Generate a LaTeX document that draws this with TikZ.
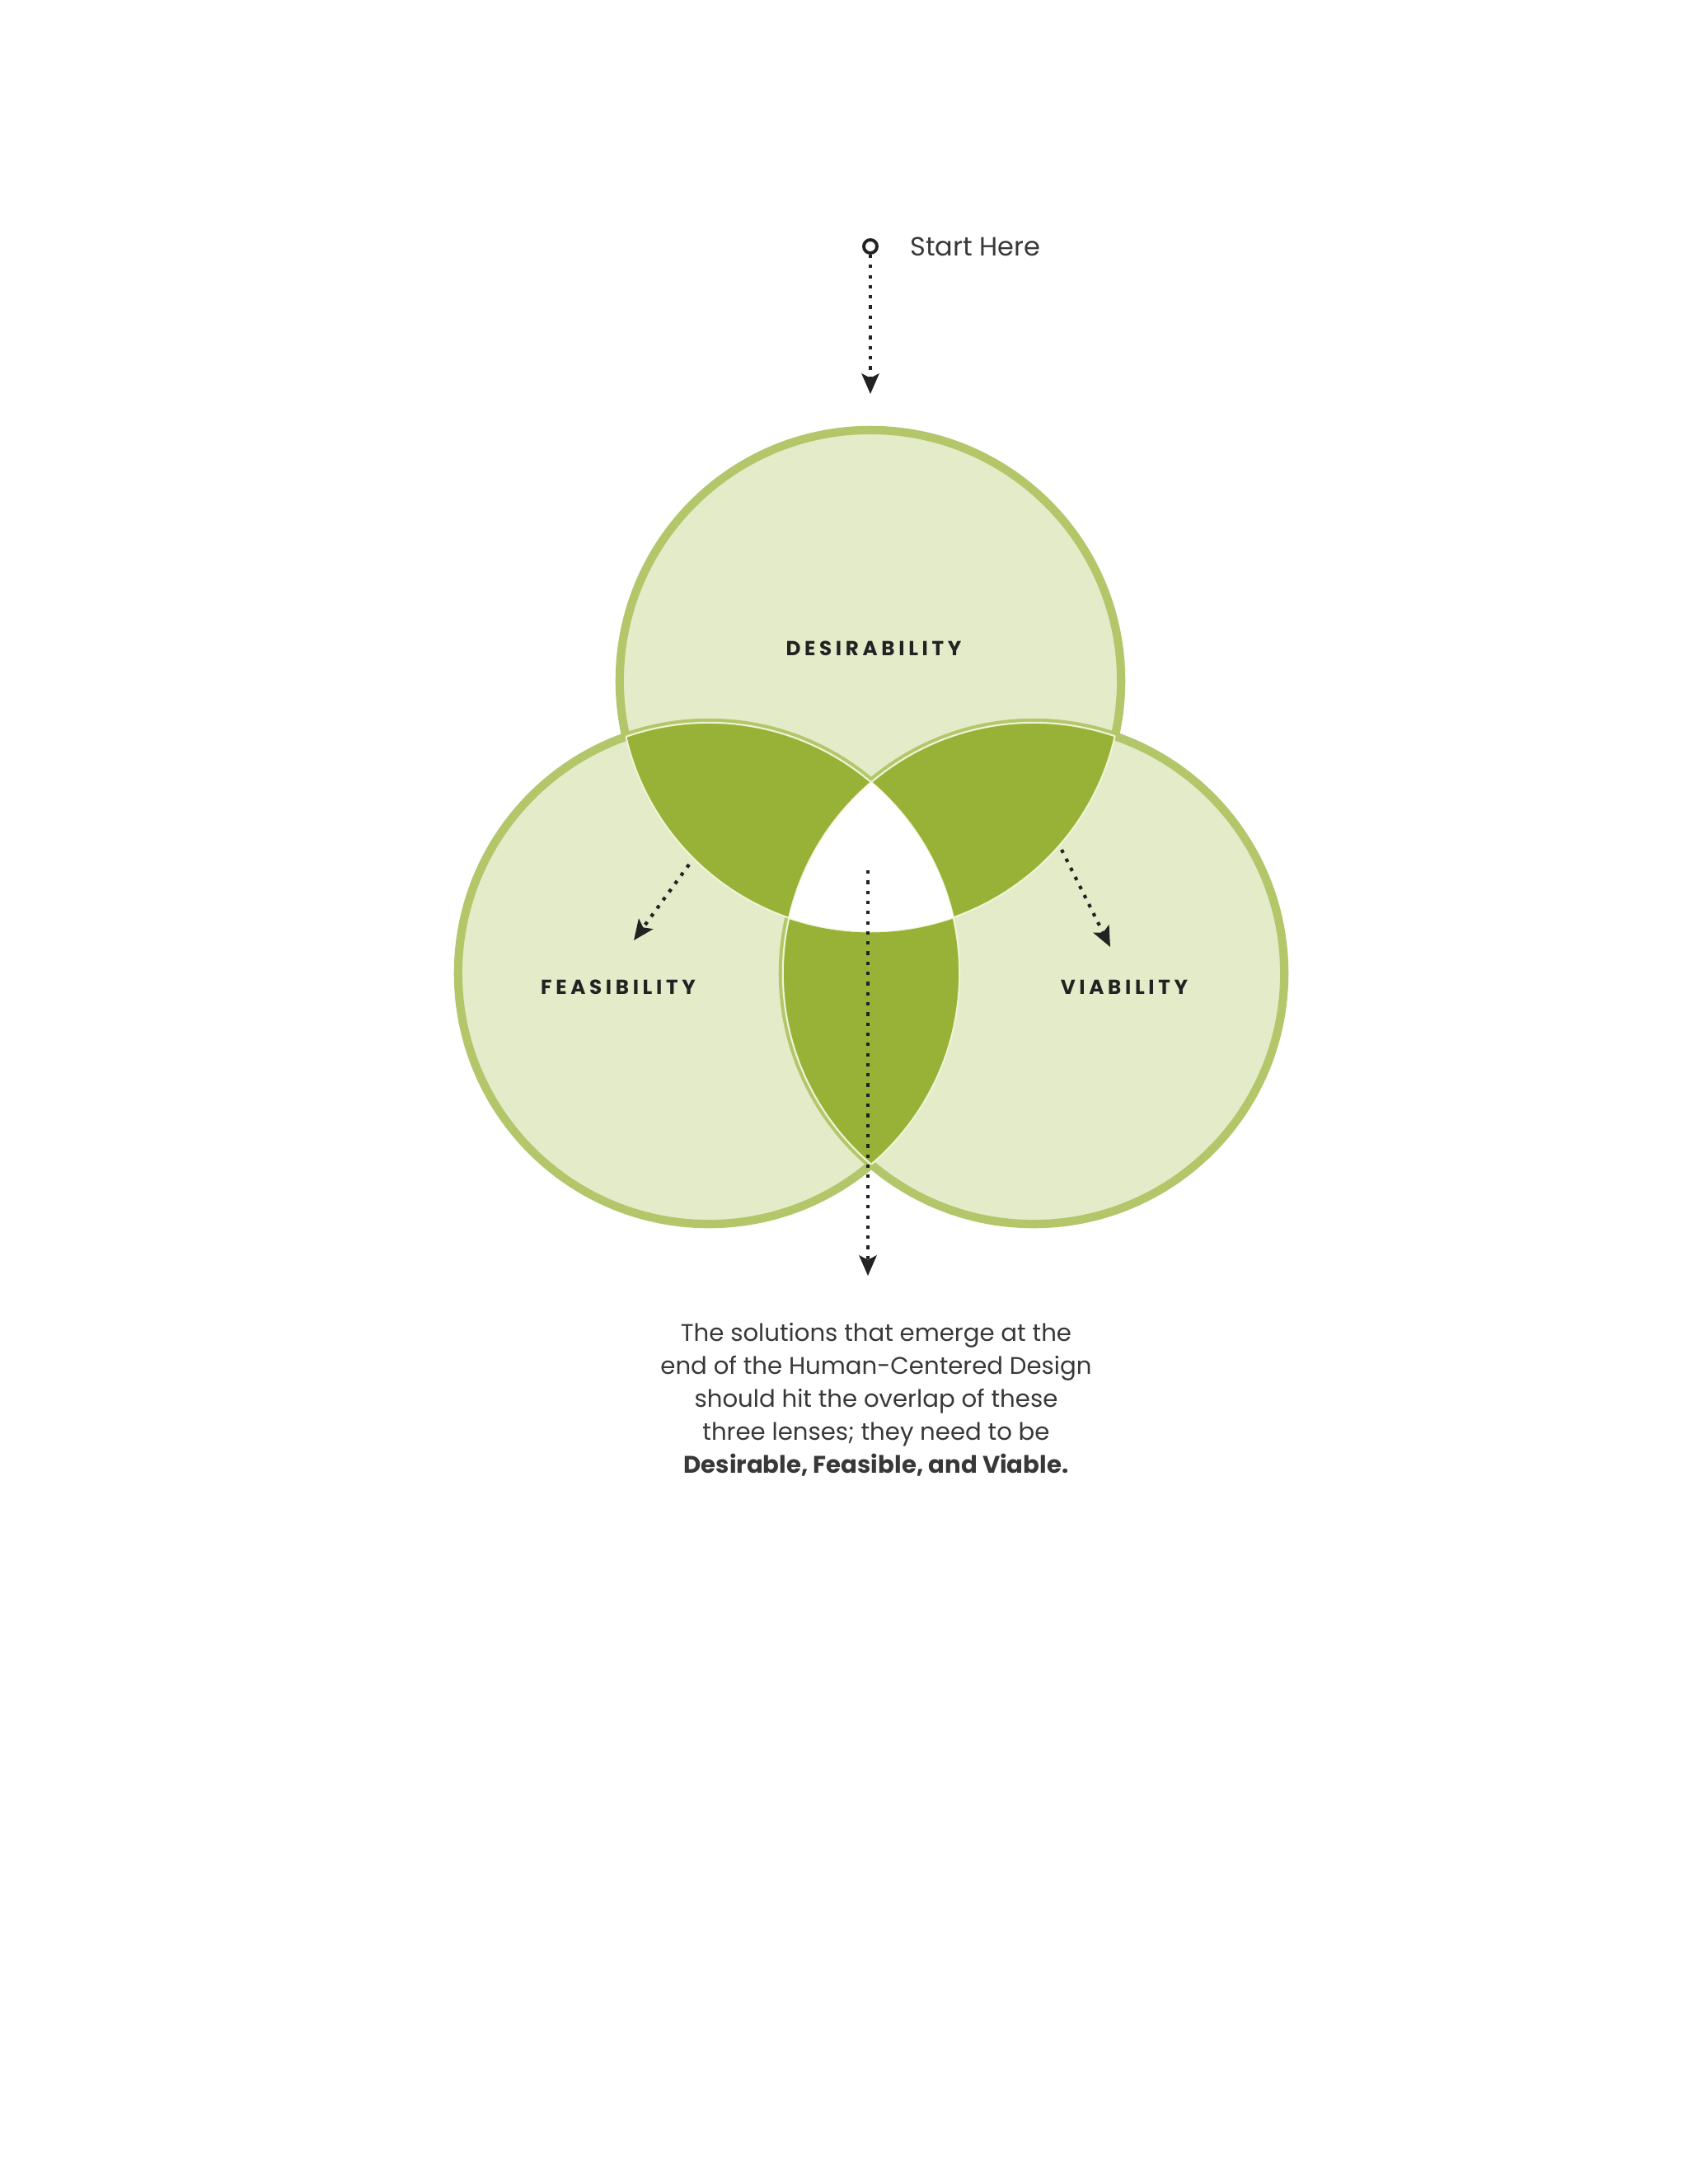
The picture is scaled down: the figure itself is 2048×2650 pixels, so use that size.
\documentclass[tikz,border=0pt]{standalone}
\usepackage{fontspec}
\setmainfont{Poppins}
\newfontfamily\lensfont[LetterSpace=19]{Poppins}
\usepackage{tikz}
\usetikzlibrary{positioning,arrows.meta}
\definecolor{lenslight}{HTML}{E4EBC9}
\definecolor{lensring}{HTML}{B3C76A}
\definecolor{lensdark}{HTML}{97B236}
\definecolor{lensedge}{HTML}{EEF4D4}
\definecolor{ink}{HTML}{222222}
\tikzstyle{lens} = [circle, inner sep=0pt, outer sep=0pt, minimum size=6.08cm, fill=lenslight, draw=lensring, line width=2.9pt]
\tikzstyle{lenslabel} = [text=ink, font=\lensfont\fontsize{7}{8}\selectfont\bfseries]
\tikzstyle{flow} = [draw=ink, line width=1.2pt, dash pattern=on 1.2pt off 2.3pt, -{Stealth[length=7pt,width=6pt,inset=1.5pt]}]
\def\lensr{3.04cm}

\begin{document}
\begin{tikzpicture}[x=0.01cm,y=-0.01cm]
  \useasboundingbox (0,0) rectangle (2048,2650);
  \fill[white] (0,0) rectangle (2048,2650);
  % three lenses, drawn in this order
  \node[lens] (des) at (1056,826) {};
  \node[lens] (fea) at (860,1181) {};
  \node[lens] (via) at (1254,1181) {};
  % overlaps
  \foreach \a/\b in {des/fea,des/via,fea/via} {
    \begin{scope}
      \clip (\a.center) circle[radius=\lensr];
      \fill[lensdark] (\b.center) circle[radius=\lensr];
    \end{scope}
  }
  \foreach \a/\b in {des/fea,fea/des,des/via,via/des,fea/via,via/fea} {
    \begin{scope}
      \clip (\a.center) circle[radius=\lensr];
      \draw[lensedge, line width=0.6pt] (\b.center) circle[radius=\lensr];
    \end{scope}
  }
  \begin{scope}
    \clip (des.center) circle[radius=\lensr];
    \clip (fea.center) circle[radius=\lensr];
    \fill[white] (via.center) circle[radius=\lensr];
  \end{scope}
  \node[lenslabel] (desl) at (1060,787) {DESIRABILITY};
  \node[lenslabel] (feal) at (750,1198) {FEASIBILITY};
  \node[lenslabel] (vial) at (1364,1198) {VIABILITY};
  % start
  \node[draw=ink, circle, line width=1.1pt, minimum size=0.16cm, inner sep=0pt] (start) at (1056,299) {};
  \node[text=ink!90, font=\fontsize{9.1}{11}\selectfont] (starttxt) [right=0.26cm of start] {Start Here};
  \coordinate (enter) at (1056,478);
  \coordinate (feafrom) at (836,1049);
  \coordinate (feato) at (769,1141);
  \coordinate (viafrom) at (1288,1031);
  \coordinate (viato) at (1347,1149);
  \coordinate (core) at (1053,1056);
  \coordinate (out) at (1053,1548);
  \draw[flow] (start) -- (enter);
  \draw[flow] (feafrom) -- (feato);
  \draw[flow] (viafrom) -- (viato);
  \draw[flow] (core) -- (out);
  % note
  \node[text=ink!90, align=center, font=\fontsize{8.3}{11.4}\selectfont] (note) at (1063,1698)
    {The solutions that emerge at the\\end of the Human-Centered Design\\should hit the overlap of these\\three lenses; they need to be\\\textbf{Desirable, Feasible, and Viable.}};
\end{tikzpicture}
\end{document}
